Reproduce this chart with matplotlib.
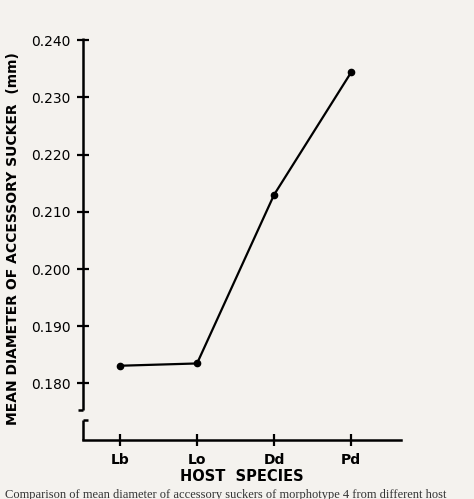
import matplotlib
matplotlib.use("Agg")
import matplotlib.pyplot as plt

hosts = ["Lb", "Lo", "Dd", "Pd"]
diam = [0.1831, 0.1835, 0.213, 0.2344]
yticks = [0.180, 0.190, 0.200, 0.210, 0.220, 0.230, 0.240]

bg = "#f4f2ee"
fig = plt.figure(figsize=(4.74, 4.99), dpi=100, facecolor=bg)
ax = fig.add_axes([0.175, 0.118, 0.67, 0.806], facecolor=bg)

x = list(range(len(hosts)))
ax.plot(x, diam, color="black", lw=1.6, marker="o", ms=4.5)

ax.set_xlim(-0.48, 3.64)
ax.set_ylim(0.1701, 0.2404)
ax.set_xticks(x)
ax.set_xticklabels(hosts, fontsize=10, fontweight="bold")
ax.set_yticks(yticks)
ax.set_yticklabels([f"{v:.3f}" for v in yticks], fontsize=10)
ax.tick_params(axis="both", direction="inout", length=8, width=1.6, pad=5)

for s in ("top", "right", "left"):
    ax.spines[s].set_visible(False)
ax.spines["bottom"].set_linewidth(1.8)

# broken y axis drawn by hand
tr = ax.get_yaxis_transform()
kw = dict(transform=tr, color="black", lw=1.8, clip_on=False, solid_capstyle="butt")
ax.plot([0, 0], [0.1753, 0.2404], **kw)
ax.plot([-0.015, 0], [0.1753, 0.1753], **kw)
ax.plot([0, 0], [0.1701, 0.1737], **kw)
ax.plot([0, 0.015], [0.1737, 0.1737], **kw)

ax.set_xlabel("HOST  SPECIES", fontsize=10.5, fontweight="bold", labelpad=2)
ax.set_ylabel("MEAN DIAMETER OF ACCESSORY SUCKER  (mm)", fontsize=10, fontweight="bold", labelpad=8)

fig.text(0.01, 0.003, "Comparison of mean diameter of accessory suckers of morphotype 4 from different host",
         fontsize=9, family="Liberation Serif", color="#333333")

fig.savefig("out.png", dpi=100, facecolor=bg)
